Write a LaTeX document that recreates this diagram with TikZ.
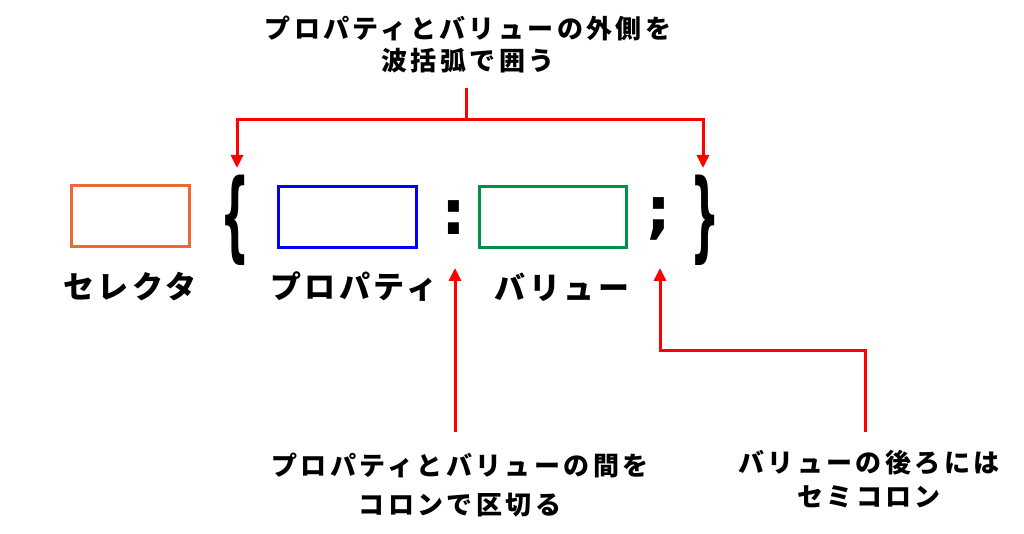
\documentclass[tikz,border=0pt]{standalone}
\usepackage{fontspec}
\setmainfont{Noto Sans CJK JP}
\newfontfamily\notefont{Noto Sans CJK JP}[LetterSpace=13]
\newfontfamily\lblfont{Noto Sans CJK JP}[LetterSpace=11]
\newfontfamily\symf{DejaVu Sans}
\usetikzlibrary{arrows.meta}
\definecolor{ored}{RGB}{237,104,50}
\definecolor{bblue}{RGB}{0,0,255}
\definecolor{ggreen}{RGB}{0,145,70}
\definecolor{rline}{RGB}{255,0,0}
\tikzset{
  box/.style={draw=#1, line width=3pt, minimum height=61pt, inner sep=0pt},
  lbl/.style={font=\lblfont\fontsize{31}{36}\selectfont\bfseries, inner sep=0pt},
  note/.style={font=\notefont\fontsize{26}{#1}\selectfont\bfseries, align=center, inner sep=0pt},
  punct/.style={font=\symf\fontsize{62}{62}\selectfont\bfseries, inner sep=0pt},
  brace/.style={font=\symf\fontsize{98}{98}\selectfont\bfseries, inner sep=0pt, xscale=0.42},
  conn/.style={draw=rline, line width=3pt},
  arr/.style={conn, -{Triangle[length=13pt,width=12pt]}}
}
\begin{document}
\begin{tikzpicture}[x=1pt,y=-1pt]
\useasboundingbox (0,0) rectangle (1024,534);
\fill[white] (0,0) rectangle (1024,534);
% boxes
\node[box=ored, minimum width=118pt] (sel) at (130,216) {};
\node[box=bblue, minimum width=138pt] (prop) at (347,217) {};
\node[box=ggreen, minimum width=147pt] (val) at (553,217) {};
% punctuation
\node[brace] (lb) at (235,220) {\{};
\node[brace] (rb) at (705,220) {\}};
\node[punct] (colon) at (454,218) {:};
\node[punct] (semi) at (659,219) {;};
% labels
\node[lbl] (lsel) at (130,287) {セレクタ};
\node[lbl] (lprop) at (354,287) {プロパティ};
\node[lbl] (lval) at (562,287) {バリュー};
% notes
\node[note=32] (top) at (468,44.5) {プロパティとバリューの外側を\\波括弧で囲う};
\node[note=39] (bl) at (460,485.5) {プロパティとバリューの間を\\コロンで区切る};
\node[note=33.5] (br) at (869,479) {バリューの後ろには\\セミコロン};
% connectors
\coordinate (tj) at (466,120);
\coordinate (ta) at (237,120);
\coordinate (tb) at (703,120);
\coordinate (lt) at (237,168);
\coordinate (rt) at (703,168);
\draw[conn] (466,88) -- (tj);
\draw[arr] (tj) -- (ta) -- (lt);
\draw[arr] (tj) -- (tb) -- (rt);
\coordinate (cs) at (455,432);
\coordinate (ce) at (455,268);
\draw[arr] (cs) -- (ce);
\coordinate (ss) at (865,432);
\coordinate (se) at (660,268);
\draw[arr] (ss) -- (865,350) -- (660,350) -- (se);
\end{tikzpicture}
\end{document}
